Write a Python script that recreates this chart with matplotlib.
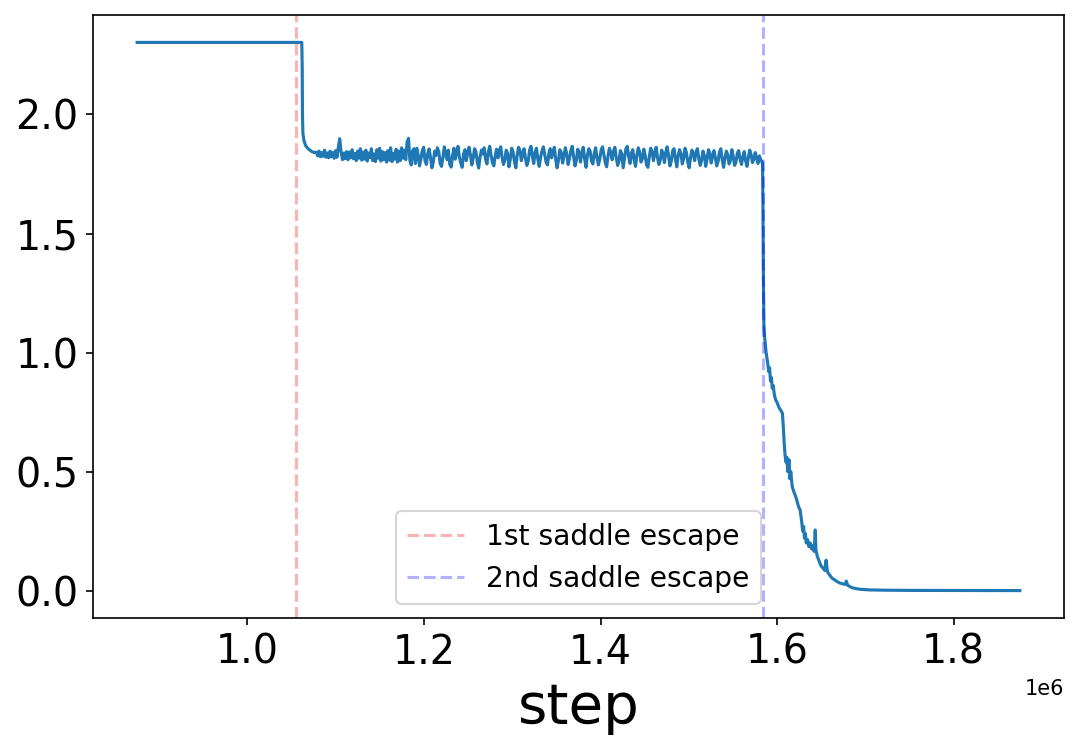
import matplotlib
matplotlib.use("Agg")
import matplotlib.pyplot as plt
import numpy as np

# loss curve
head_steps = [0.875e6, 1.0615e6, 1.0620e6, 1.0623e6, 1.0628e6, 1.0640e6,
              1.0660e6, 1.0690e6, 1.0725e6, 1.0755e6]
head_loss = [2.3026, 2.3026, 2.20, 2.00, 1.92, 1.89, 1.868, 1.855, 1.845, 1.840]

plateau_start, plateau_end = 1.078e6, 1.583e6
plateau_loss = [
    # quieter stretch right after the first escape
    1.842, 1.826, 1.846, 1.822, 1.840, 1.824, 1.850, 1.820, 1.838, 1.818, 1.846, 1.822,
    1.840, 1.816, 1.848, 1.820, 1.862, 1.898, 1.842, 1.810, 1.838, 1.814, 1.844, 1.810,
    1.842, 1.818, 1.852, 1.814, 1.836, 1.806, 1.846, 1.816, 1.856, 1.808, 1.842, 1.812,
    1.850, 1.804, 1.838, 1.818, 1.856, 1.806, 1.834, 1.802, 1.852, 1.816, 1.858, 1.804,
    1.844, 1.810, 1.840, 1.800, 1.848, 1.808, 1.860, 1.802, 1.836, 1.812, 1.854, 1.800,
    1.846, 1.806, 1.860, 1.816, 1.850, 1.810, 1.885, 1.900, 1.806, 1.788, 1.848, 1.856, 1.794,
    # wider noise band
    1.858, 1.830, 1.784, 1.812, 1.848, 1.862, 1.806, 1.790, 1.836, 1.855, 1.818, 1.776,
    1.800, 1.846, 1.828, 1.860, 1.842, 1.795, 1.782, 1.820, 1.864, 1.838, 1.810, 1.850,
    1.790, 1.779, 1.826, 1.858, 1.812, 1.842, 1.866, 1.820, 1.796, 1.778, 1.834, 1.852,
    1.806, 1.838, 1.862, 1.830, 1.788, 1.816, 1.856, 1.844, 1.800, 1.775, 1.822, 1.850,
    1.834, 1.860, 1.812, 1.792, 1.842, 1.866, 1.828, 1.798, 1.784, 1.826, 1.854, 1.818,
    1.846, 1.864, 1.820, 1.790, 1.808, 1.850, 1.836, 1.780, 1.812, 1.858, 1.842, 1.802,
    1.776, 1.830, 1.862, 1.848, 1.806, 1.834, 1.856, 1.816, 1.786, 1.804, 1.850, 1.866,
    1.826, 1.794, 1.840, 1.858, 1.812, 1.782, 1.820, 1.846, 1.864, 1.832, 1.800, 1.788,
    1.836, 1.856, 1.818, 1.844, 1.862, 1.810, 1.776, 1.808, 1.852, 1.840, 1.796, 1.826,
    1.860, 1.834, 1.790, 1.816, 1.848, 1.866, 1.822, 1.784, 1.806, 1.854, 1.838, 1.800,
    1.842, 1.862, 1.814, 1.778, 1.828, 1.856, 1.846, 1.804, 1.792, 1.836, 1.860, 1.820,
    1.788, 1.812, 1.850, 1.864, 1.830, 1.798, 1.780, 1.826, 1.858, 1.840, 1.810, 1.846,
    1.862, 1.818, 1.786, 1.804, 1.848, 1.834, 1.776, 1.816, 1.856, 1.866, 1.824, 1.794,
    1.838, 1.852, 1.808, 1.782, 1.830, 1.860, 1.842, 1.800, 1.814, 1.854, 1.828, 1.788,
    1.778, 1.822, 1.858, 1.846, 1.806, 1.836, 1.862, 1.818, 1.790, 1.810, 1.850, 1.834,
    1.798, 1.842, 1.864, 1.826, 1.784, 1.804, 1.848, 1.856, 1.812, 1.780, 1.828, 1.852,
    1.836, 1.792, 1.816, 1.858, 1.840, 1.798, 1.776, 1.820, 1.850, 1.832, 1.806, 1.844,
    1.856, 1.814, 1.786, 1.808, 1.846, 1.828, 1.782, 1.812, 1.852, 1.838, 1.796, 1.824,
    1.848, 1.820, 1.784, 1.802, 1.842, 1.856, 1.810, 1.778, 1.816, 1.846, 1.830, 1.792,
    1.808, 1.852, 1.824, 1.786, 1.800, 1.838, 1.848, 1.812, 1.790, 1.822, 1.844, 1.806,
    1.782, 1.818, 1.850, 1.832, 1.798, 1.812, 1.840, 1.816, 1.794, 1.826, 1.810, 1.800,
]

tail_steps = [
    1.5835e6, 1.5840e6, 1.5845e6, 1.5850e6, 1.5860e6, 1.5875e6, 1.5890e6,
    1.5905e6, 1.5915e6, 1.5925e6, 1.5935e6, 1.5945e6, 1.5955e6, 1.5970e6,
    1.5985e6, 1.6000e6, 1.6020e6, 1.6045e6, 1.6060e6, 1.6070e6, 1.6080e6,
    1.6090e6, 1.6100e6, 1.6110e6, 1.6120e6, 1.6135e6, 1.6145e6, 1.6155e6,
    1.6170e6, 1.6185e6, 1.6200e6, 1.6215e6, 1.6230e6, 1.6245e6, 1.6260e6,
    1.6275e6, 1.6290e6, 1.6300e6, 1.6310e6, 1.6320e6, 1.6330e6, 1.6345e6,
    1.6360e6, 1.6375e6, 1.6390e6, 1.6405e6, 1.6420e6, 1.6432e6, 1.6440e6,
    1.6455e6, 1.6470e6, 1.6490e6, 1.6505e6, 1.6520e6, 1.6540e6, 1.6555e6,
    1.6570e6, 1.6590e6, 1.6610e6, 1.6630e6, 1.6650e6, 1.6670e6, 1.6690e6,
    1.6710e6, 1.6730e6, 1.6750e6, 1.6770e6, 1.6784e6, 1.6800e6, 1.6830e6,
    1.6860e6, 1.6900e6, 1.6960e6, 1.7050e6, 1.7200e6, 1.7500e6, 1.8000e6,
    1.8750e6,
]
tail_loss = [
    1.790, 1.600, 1.300, 1.120, 1.060, 1.000, 0.965,
    0.920, 0.935, 0.880, 0.895, 0.850, 0.862, 0.820,
    0.800, 0.790, 0.770, 0.755, 0.745, 0.690, 0.620,
    0.570, 0.540, 0.560, 0.500, 0.550, 0.470, 0.500,
    0.440, 0.420, 0.405, 0.390, 0.370, 0.350, 0.340,
    0.300, 0.250, 0.270, 0.220, 0.240, 0.200, 0.215,
    0.185, 0.200, 0.175, 0.190, 0.165, 0.255, 0.170,
    0.145, 0.130, 0.110, 0.100, 0.095, 0.085, 0.128,
    0.080, 0.068, 0.058, 0.050, 0.046, 0.040, 0.036,
    0.032, 0.030, 0.028, 0.026, 0.040, 0.022, 0.016,
    0.011, 0.008, 0.005, 0.003, 0.002, 0.001, 0.0005,
    0.0002,
]

saddle_steps = [1.0548e6, 1.584e6]
saddle_labels = ["1st saddle escape", "2nd saddle escape"]
saddle_colors = ["red", "blue"]


if __name__ == "__main__":
    plateau_steps = np.linspace(plateau_start, plateau_end, len(plateau_loss))
    steps = np.concatenate([head_steps, plateau_steps, tail_steps])
    loss = np.concatenate([head_loss, plateau_loss, tail_loss])

    fig = plt.figure(figsize=(7.2, 749 / 150), dpi=150)
    ax = fig.add_axes([93 / 1080, 1 - 618 / 749, 971 / 1080, 603 / 749])

    ax.plot(steps, loss)
    for s, lab, c in zip(saddle_steps, saddle_labels, saddle_colors):
        ax.axvline(s, color=c, linestyle="--", alpha=0.3, label=lab)

    ax.set_xlabel("step", fontsize=27)
    ax.tick_params(labelsize=19)
    ax.legend(loc="lower center", fontsize=13.5)

    fig.savefig("out.png", dpi=150)
    plt.close(fig)
